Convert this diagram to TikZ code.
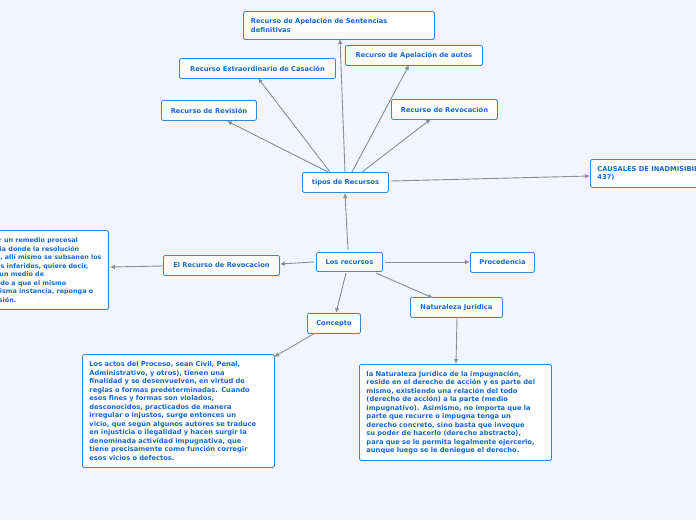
\documentclass[tikz,border=0pt]{standalone}
\usepackage{fontspec}
\setmainfont{DejaVu Sans}
\usetikzlibrary{arrows.meta}
\definecolor{bg}{HTML}{F2F5FE}
\definecolor{bd}{HTML}{3A86D8}
\definecolor{tx}{HTML}{1769D2}
\definecolor{ln}{HTML}{8A8E96}
\begin{document}
\begin{tikzpicture}[x=1pt,y=-1pt,
 box/.style={draw=bd,line width=0.9pt,fill=white,rounded corners=2pt,text=tx,font=\fontsize{6.7}{8.5}\selectfont\bfseries,inner xsep=7pt,inner ysep=0pt,anchor=north west},
 big/.style={box,align=left,text width=#1},
 con/.style={draw=ln,line width=0.9pt,-{Latex[length=5pt,width=4.5pt]}}]
\fill[bg] (0,0) rectangle (696,520);
\useasboundingbox (0,0) rectangle (696,520);
\begin{scope}
\clip (0,0) rectangle (696,520);
\node[box,minimum width=191pt,minimum height=28pt,align=left,text width=176pt] (sent) at (243,11) {Recurso de Apelación de Sentencias\\definitivas};
\node[box,minimum width=156pt,minimum height=20pt] (cas) at (179,58) {Recurso Extraordinario de Casación};
\node[box,minimum width=137pt,minimum height=20pt] (aut) at (345,45) {Recurso de Apelación de autos};
\node[box,minimum width=95pt,minimum height=20pt] (rev) at (161,100) {Recurso de Revisión};
\node[box,minimum width=106pt,minimum height=20pt] (rvc) at (391,99) {Recurso de Revocación};
\node[box,minimum width=86pt,minimum height=20pt] (tip) at (302,172) {tipos de Recursos};
\node[box,minimum height=28pt,align=left] (cau) at (590,159) {CAUSALES DE INADMISIBILIDAD (ART.\\437)};
\node[box,minimum width=66pt,minimum height=19pt] (los) at (316,252) {Los recursos};
\node[box,minimum width=116pt,minimum height=20pt] (erv) at (163,255) {El Recurso de Revocacion};
\node[box,inner ysep=5pt,minimum height=79pt,align=left,anchor=north east,font=\fontsize{6.4}{8.5}\selectfont\bfseries] (lft) at (109,230) {obtener un remedio procesal\\instancia donde la resolución\\dictada, allí mismo se subsanen los\\agravios inferidos, quiere decir,\\que es un medio de\\destinado a que el mismo\\de la misma instancia, reponga o\\su decisión.};
\node[box,minimum width=64pt,minimum height=20pt] (pro) at (470,252) {Procedencia};
\node[box,minimum width=92pt,minimum height=20pt] (nat) at (410,297) {Naturaleza Juridica};
\node[box,minimum width=53pt,minimum height=20pt] (con) at (307,313) {Concepto};
\node[big=178pt,minimum width=192pt,minimum height=113pt] (act) at (82,354) {Los actos del Proceso, sean Civil, Penal,\\Administrativo, y otros), tienen una\\finalidad y se desenvuelven, en virtud de\\reglas o formas predeterminadas. Cuando\\esos fines y formas son violados,\\desconocidos, practicados de manera\\irregular o injustos, surge entonces un\\vicio, que según algunos autores se traduce\\en injusticia o ilegalidad y hacen surgir la\\denominada actividad impugnativa, que\\tiene precisamente como función corregir\\esos vicios o defectos.};
\node[big=178pt,minimum width=192pt,minimum height=96pt] (nbx) at (359,364) {la Naturaleza Jurídica de la impugnación,\\reside en el derecho de acción y es parte del\\mismo, existiendo una relación del todo\\(derecho de acción) a la parte (medio\\impugnativo). Asimismo, no importa que la\\parte que recurre o impugna tenga un\\derecho concreto, sino basta que invoque\\su poder de hacerlo (derecho abstracto),\\para que se le permita legalmente ejercerlo,\\aunque luego se le deniegue el derecho.};
\end{scope}
\draw[con] (348,250) -- (345,193);
\draw[con] (314,262) -- (280,264);
\draw[con] (385,262) -- (470,262);
\draw[con] (376,273) -- (433,298);
\draw[con] (346,273) -- (336,313);
\draw[con] (163,266) -- (110,267);
\draw[con] (328,172) -- (227,121);
\draw[con] (330,172) -- (258,78);
\draw[con] (345,172) -- (340,39);
\draw[con] (352,172) -- (409,65);
\draw[con] (362,172) -- (431,119);
\draw[con] (391,181) -- (590,176);
\draw[con] (315,333) -- (274,357);
\draw[con] (457,318) -- (456,364);
\end{tikzpicture}
\end{document}
